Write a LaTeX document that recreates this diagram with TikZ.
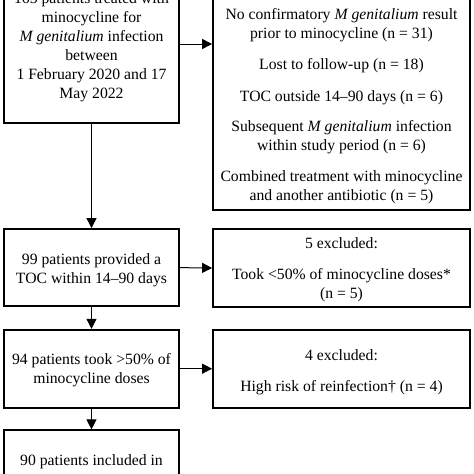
\documentclass[tikz,border=0pt]{standalone}
\usepackage{fontspec}
\setmainfont{Liberation Serif}
\usetikzlibrary{arrows.meta}
\begin{document}
\begin{tikzpicture}[x=1pt,y=-1pt,
  box/.style={draw, line width=1.8pt, rectangle, inner sep=0pt},
  txt/.style={align=center, inner sep=0pt, font=\fontsize{15.7}{19}\selectfont},
  arr/.style={line width=1pt, -{Triangle[length=10pt,width=10pt]}}]
\fill[white] (0,0) rectangle (474,474);
\useasboundingbox (0,0) rectangle (474,474);
\clip (0,0) rectangle (474,474);
% boxes
\node[box, minimum width=175pt, minimum height=163pt] (b1) at (91.5,41.5) {};
\node[box, minimum width=256.7pt, minimum height=219.7pt] (r1) at (341.35,99.85) {};
\node[box, minimum width=175pt, minimum height=77.3pt] (b2) at (91.5,267.65) {};
\node[box, minimum width=256.7pt, minimum height=78pt] (r2) at (341.35,268) {};
\node[box, minimum width=175pt, minimum height=78pt] (b3) at (91.5,368.7) {};
\node[box, minimum width=256.7pt, minimum height=78pt] (r3) at (341.35,368.7) {};
\node[box, minimum width=175pt, minimum height=89.7pt] (b4) at (91.5,475.15) {};
% texts
\node[txt] (t1) at (91.5,46.9) {165 patients treated with\\minocycline for\\\textit{M genitalium} infection\\between\\1 February 2020 and 17\\May 2022};
\node[txt] (tr1) at (341.5,106) {No confirmatory \textit{M genitalium} result\\prior to minocycline (n = 31)\\[11.5pt]
Lost to follow-up (n = 18)\\[13pt]
TOC outside 14--90 days (n = 6)\\[11pt]
Subsequent \textit{M genitalium} infection\\within study period (n = 6)\\[12pt]
Combined treatment with minocycline\\and another antibiotic (n = 5)};
\node[txt] (t2) at (91.5,269.9) {99 patients provided a\\TOC within 14--90 days};
\node[txt] (tr2) at (341.5,270) {5 excluded:\\[12pt]Took <50\% of minocycline doses*\\(n = 5)};
\node[txt] (t3) at (91.5,370.3) {94 patients took >50\% of\\minocycline doses};
\node[txt] (tr3) at (341.5,371.9) {4 excluded:\\[12pt]High risk of reinfection† (n = 4)};
\node[txt, anchor=base] (t4) at (91.5,465) {90 patients included in};
% connectors
\coordinate (a1) at (179,44);
\draw[arr] (b1.south) -- (b2.north);
\draw[arr] (b2.south) -- (b3.north);
\draw[arr] (b3.south) -- (b4.north);
\draw[arr] (a1) -- (a1 -| r1.west);
\draw[arr] (b2.east) -- (r2.west);
\draw[arr] (b3.east) -- (r3.west);
\end{tikzpicture}
\end{document}
